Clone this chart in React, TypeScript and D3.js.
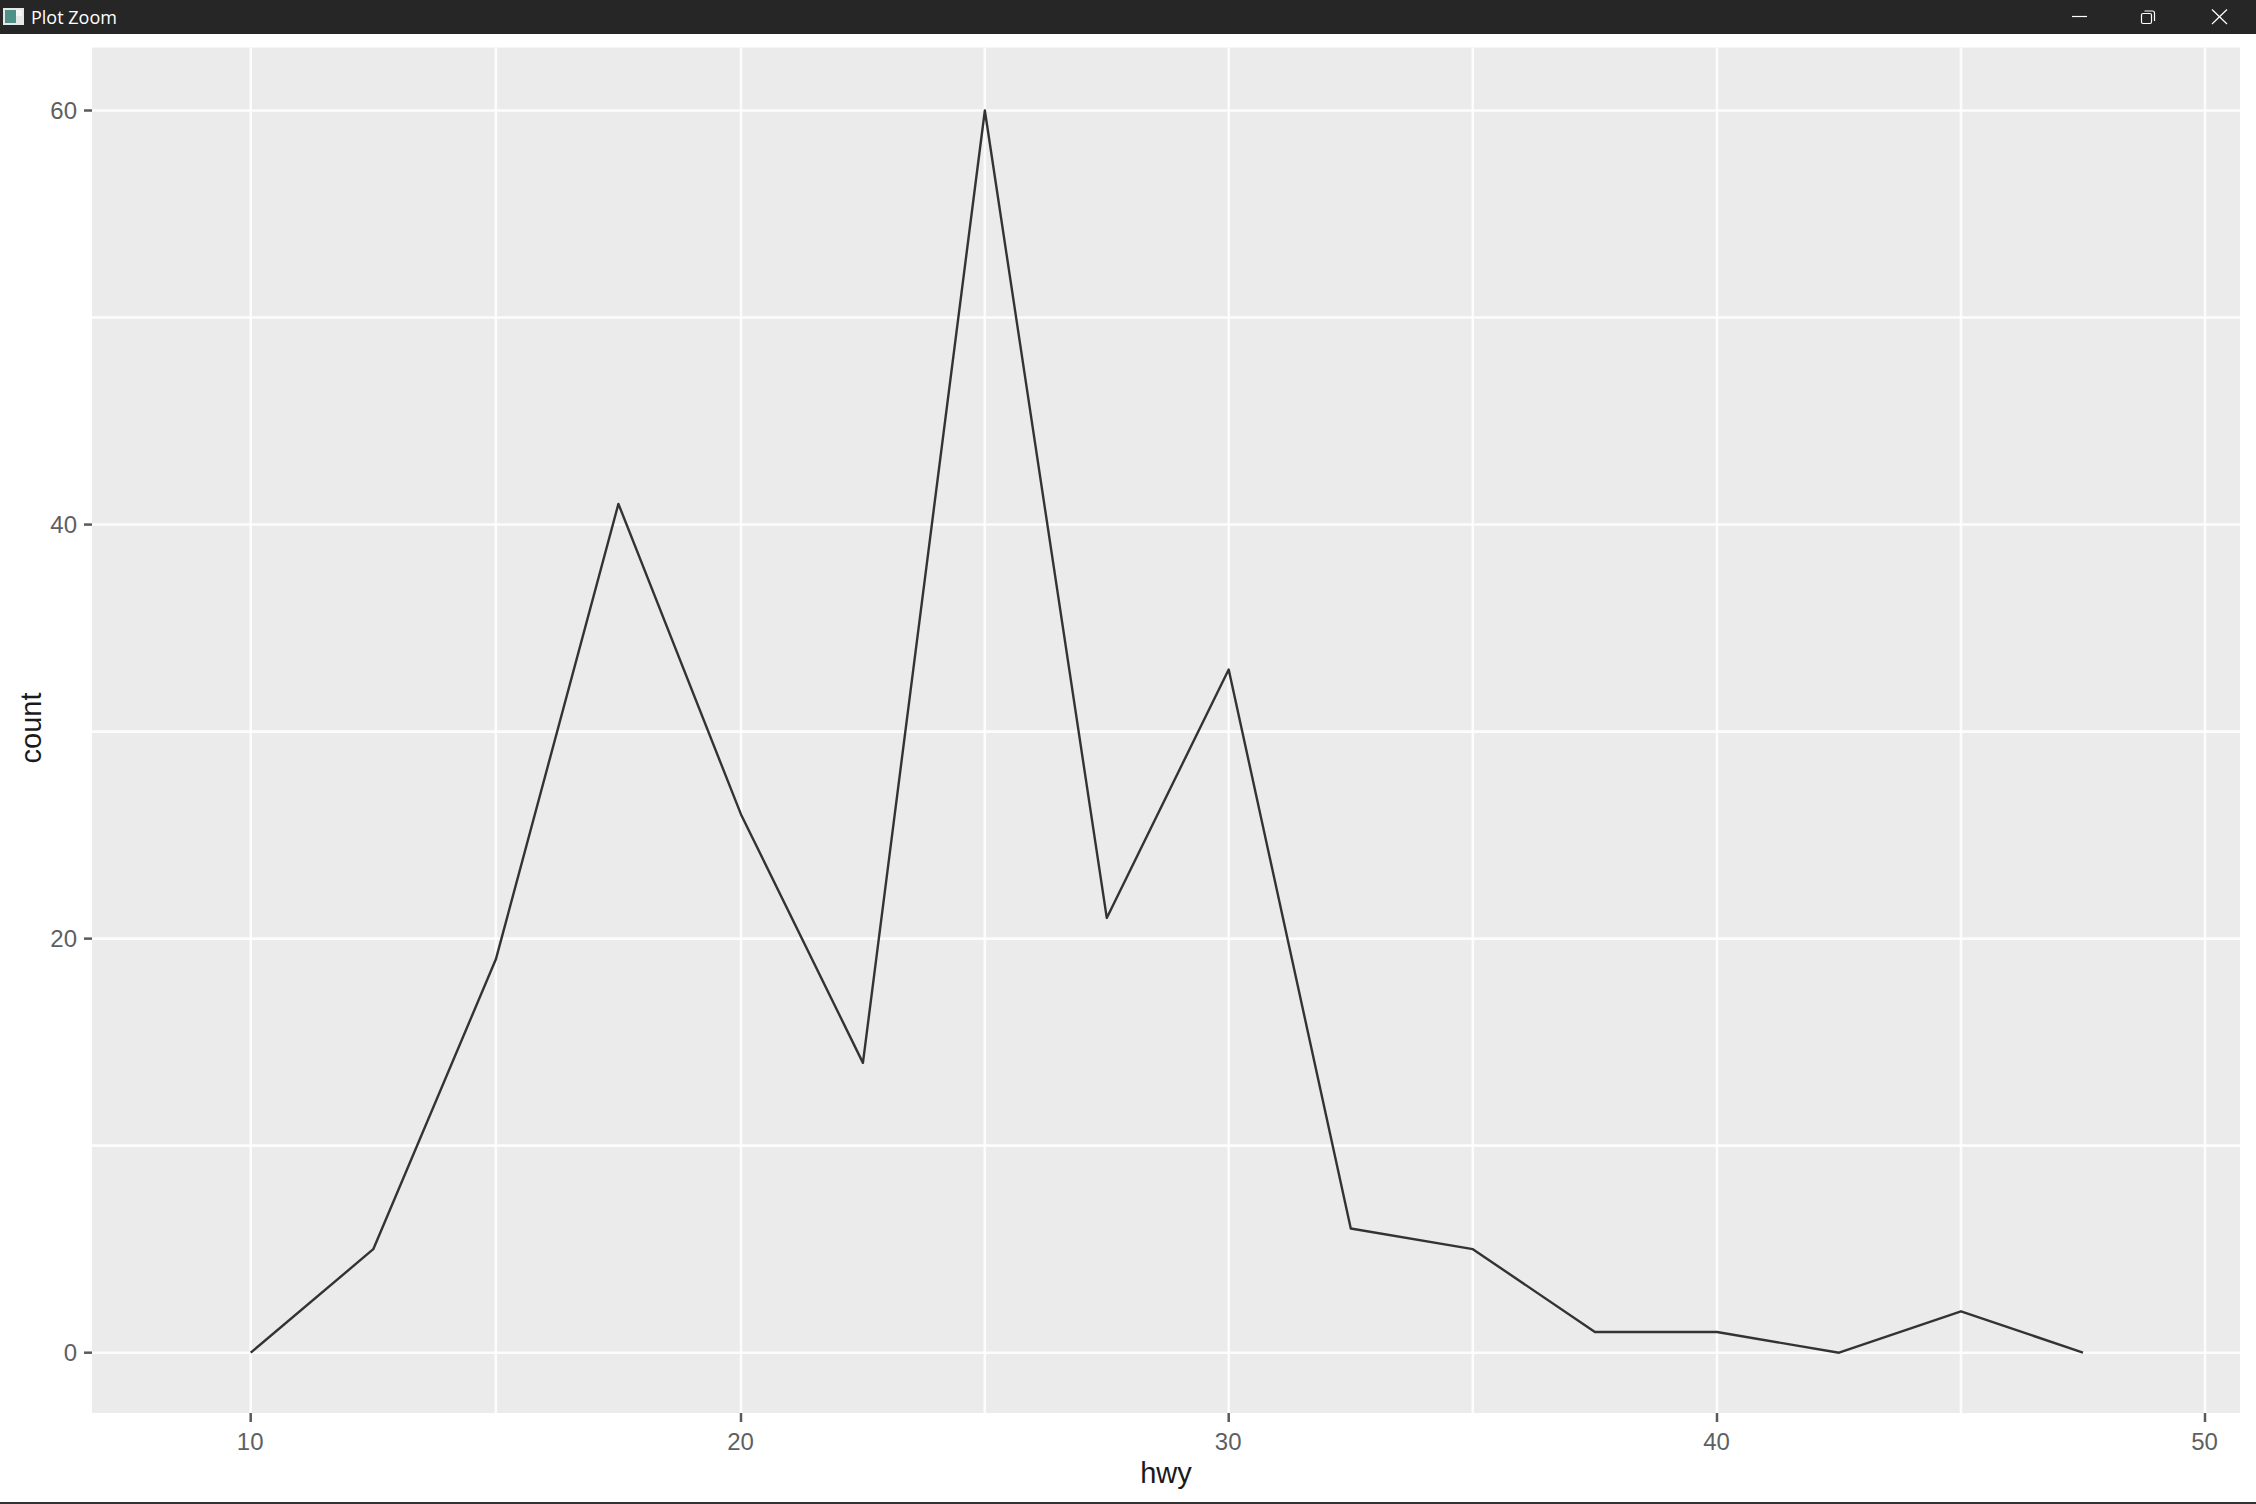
import React from "react";
import * as d3 from "d3";

const hwyBins = [10, 12.5, 15, 17.5, 20, 22.5, 25, 27.5, 30, 32.5, 35, 37.5, 40, 42.5, 45, 47.5];
const counts = [0, 5, 19, 41, 26, 14, 60, 21, 33, 6, 5, 1, 1, 0, 2, 0];
const xMajor = [10, 20, 30, 40, 50];
const xMinor = [15, 25, 35, 45];
const yMajor = [0, 20, 40, 60];
const yMinor = [10, 30, 50];
const windowTitle = "Plot Zoom";
const xTitle = "hwy";
const yTitle = "count";

const W = 2256;
const H = 1504;
const panel = { left: 92, right: 2240, top: 47.5, bottom: 1413 };
const font = "'Liberation Sans', Arial, sans-serif";

export default function App() {
  // The reference raster is slightly uneven, so the x scale is anchored at each major break.
  const x = d3.scaleLinear().domain(xMajor).range([250.7, 741, 1228.7, 1717, 2205]);
  const y = d3.scaleLinear().domain([0, 60]).range([1352.7, 110.5]);
  const line = d3
    .line<number>()
    .x((_, i) => x(hwyBins[i]))
    .y((d) => y(d));
  return (
    <svg
      width={W}
      height={H}
      viewBox={`0 0 ${W} ${H}`}
      style={{ position: "absolute", left: 0, top: 0, display: "block", background: "#fff" }}
    >
      {/* window chrome */}
      <rect x={0} y={0} width={W} height={34} fill="#262626" />
      <rect x={0} y={1502} width={W} height={2} fill="#333333" />
      <g>
        <rect x={3} y={8} width={21} height={17} fill="#e4e8e8" />
        <rect x={5} y={10} width={11} height={13} fill="#4f9088" />
        <rect x={16} y={10} width={6} height={6} fill="#f4f6f6" />
      </g>
      <text x={31} y={24} fontFamily="'Segoe UI', 'Open Sans', 'Noto Sans', sans-serif" fontSize={18} fill="#ffffff">
        {windowTitle}
      </text>
      <g stroke="#ffffff" strokeWidth={1.2} fill="none">
        <line x1={2072} x2={2087} y1={16.5} y2={16.5} />
        <rect x={2141.5} y={13.5} width={10} height={10} rx={1.5} />
        <path d="M2144.5 11 h8 a2 2 0 0 1 2 2 v8" />
        <line x1={2212} x2={2227} y1={9.5} y2={24} />
        <line x1={2227} x2={2212} y1={9.5} y2={24} />
      </g>

      {/* panel */}
      <rect x={panel.left} y={panel.top} width={panel.right - panel.left} height={panel.bottom - panel.top} fill="#EBEBEB" />
      <g stroke="#ffffff" fill="none" strokeOpacity={0.85}>
        {yMinor.map((v) => (
          <line key={v} x1={panel.left} x2={panel.right} y1={y(v)} y2={y(v)} strokeWidth={2.6} />
        ))}
        {xMinor.map((v) => (
          <line key={v} y1={panel.top} y2={panel.bottom} x1={x(v)} x2={x(v)} strokeWidth={2.6} />
        ))}
        {yMajor.map((v) => (
          <line key={v} x1={panel.left} x2={panel.right} y1={y(v)} y2={y(v)} strokeWidth={2.6} />
        ))}
        {xMajor.map((v) => (
          <line key={v} y1={panel.top} y2={panel.bottom} x1={x(v)} x2={x(v)} strokeWidth={2.6} />
        ))}
      </g>

      {/* series */}
      <path d={line(counts) ?? ""} fill="none" stroke="#333333" strokeWidth={2.4} strokeLinejoin="round" />

      {/* y axis */}
      {yMajor.map((v) => (
        <g key={v}>
          <line x1={84} x2={92} y1={y(v)} y2={y(v)} stroke="#5a5a5a" strokeWidth={2.5} />
          <text x={77} y={y(v) + 8.5} textAnchor="end" fontFamily={font} fontSize={24} fill="#5f5f5f">
            {v}
          </text>
        </g>
      ))}
      {/* x axis */}
      {xMajor.map((v) => (
        <g key={v}>
          <line x1={x(v)} x2={x(v)} y1={1413} y2={1422} stroke="#5a5a5a" strokeWidth={2.5} />
          <text x={x(v) - 0.5} y={1449.5} textAnchor="middle" fontFamily={font} fontSize={24} fill="#5f5f5f">
            {v}
          </text>
        </g>
      ))}
      <text x={1166} y={1483} textAnchor="middle" fontFamily={font} fontSize={29} fill="#1a1a1a">
        {xTitle}
      </text>
      <text
        transform="translate(41 728) rotate(-90)"
        textAnchor="middle"
        fontFamily={font}
        fontSize={29}
        fill="#1a1a1a"
      >
        {yTitle}
      </text>
    </svg>
  );
}
